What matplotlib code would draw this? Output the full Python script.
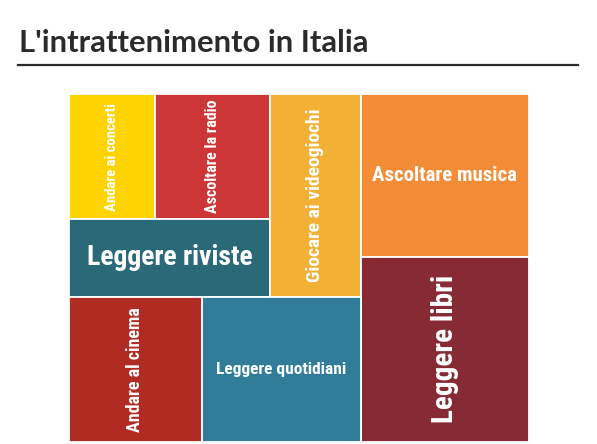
import matplotlib
matplotlib.use("Agg")
import matplotlib.pyplot as plt
from matplotlib import font_manager
from matplotlib.patches import Rectangle

# Data: share of each activity
labels = ["Andare ai concerti", "Ascoltare la radio", "Leggere riviste",
          "Giocare ai videogiochi", "Ascoltare musica", "Leggere libri",
          "Andare al cinema", "Leggere quotidiani"]
values = [6.7, 9.0, 9.7, 11.5, 17.1, 19.4, 12.0, 14.4]
colors = ["#FFD300", "#CC3636", "#2A6A78", "#F2B035",
          "#F28C36", "#862A34", "#B02B21", "#317C99"]
vertical = [True, True, False, True, False, True, True, False]
font_sizes = [10.6, 11.5, 20, 14, 15, 21, 13, 12.5]

# nesting of the treemap: 'h' = side by side, 'v' = stacked
layout = ("h", [("v", [("h", [("v", [("h", [0, 1]), 2]), 3]),
                       ("h", [6, 7])]),
                ("v", [4, 5])])

installed = {f.name for f in font_manager.fontManager.ttflist}


def pick(cands):
    for c in cands:
        if c in installed:
            return c
    return "DejaVu Sans"


cell_font = pick(["Liberation Sans Narrow", "Roboto Condensed", "Open Sans Condensed",
                  "Noto Sans Condensed", "Lato", "Roboto"])
title_font = pick(["Lato", "Open Sans", "Noto Sans"])


def total(node):
    if isinstance(node, int):
        return values[node]
    return sum(total(c) for c in node[1])


def place(node, x, y, w, h, out):
    if isinstance(node, int):
        out[node] = (x, y, w, h)
        return
    kind, kids = node
    s = total(node)
    for k in kids:
        f = total(k) / s
        if kind == "h":
            place(k, x, y, w * f, h, out)
            x += w * f
        else:
            place(k, x, y, w, h * f, out)
            y += h * f


W, H = 460.0, 347.7
rects = {}
place(layout, 0, 0, W, H, rects)

fig = plt.figure(figsize=(5.97, 4.44), dpi=100)
fig.patch.set_facecolor("white")

fig.text(19 / 597, 1 - 52 / 444, "L'intrattenimento in Italia", fontsize=22.3,
         fontweight="bold", color="#2b2b2b", family=title_font, ha="left", va="baseline")
fig.add_artist(plt.Line2D([18 / 597, 578 / 597], [1 - 65.5 / 444] * 2,
                          color="#2b2b2b", lw=1.6))

ax = fig.add_axes([69 / 597, (444 - 441.7) / 444, W / 597, H / 444])
ax.set_xlim(0, W)
ax.set_ylim(H, 0)
ax.axis("off")

for i, lab in enumerate(labels):
    x, y, w, h = rects[i]
    ax.add_patch(Rectangle((x, y), w, h, facecolor=colors[i],
                           edgecolor="white", lw=1.3))
    ax.text(x + w / 2, y + h / 2, lab, rotation=90 if vertical[i] else 0,
            ha="center", va="center", rotation_mode="anchor",
            color="white", fontsize=font_sizes[i], fontweight="bold",
            family=cell_font)

fig.savefig("out.png", dpi=100)
